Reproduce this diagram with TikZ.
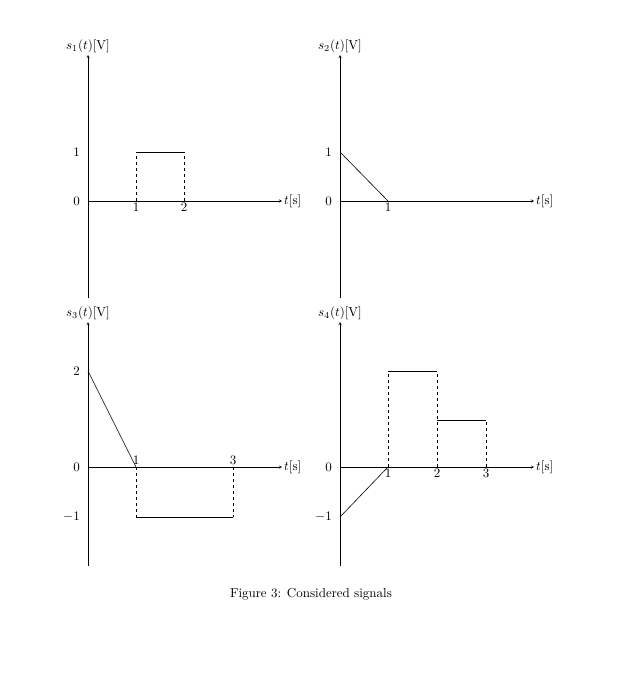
\documentclass[tikz,border=0pt]{standalone}
\begin{document}
\begin{tikzpicture}[x=1pt,y=-1pt,
  axis/.style={->,>=stealth,thin},
  sig/.style={semithick},
  guide/.style={semithick,dashed},
  lbl/.style={inner sep=1.5pt,font=\normalsize,scale=1.3}]
\useasboundingbox (0,0) rectangle (622,690);
% plot 1
\coordinate (o1) at (88,201);
\coordinate (b1) at (88,298);\coordinate (t1) at (88,55);\coordinate (r1) at (282,201);
\draw[axis] (b1) -- (t1) node[above,lbl] (y1) {$s_1(t)[\mathrm{V}]$};
\draw[axis] (o1) -- (r1) node[right,lbl] (x1) {$t[\mathrm{s}]$};
\node[left,lbl] (l10) at (82,201) {$0$};
\node[left,lbl] (l11) at (82,152) {$1$};
\node[below,lbl] (k11) at (136,201) {$1$};
\node[below,lbl] (k12) at (184,201) {$2$};
\coordinate (p1a) at (136,152);\coordinate (p1b) at (184,152);
\draw[guide] (k11.north) -- (p1a);\draw[guide] (k12.north) -- (p1b);
\draw[sig] (p1a) -- (p1b);
% plot 2
\coordinate (o2) at (340,201);
\coordinate (b2) at (340,298);\coordinate (t2) at (340,55);\coordinate (r2) at (534,201);
\draw[axis] (b2) -- (t2) node[above,lbl] (y2) {$s_2(t)[\mathrm{V}]$};
\draw[axis] (o2) -- (r2) node[right,lbl] (x2) {$t[\mathrm{s}]$};
\node[left,lbl] (l20) at (334,201) {$0$};
\node[left,lbl] (l21) at (334,152) {$1$};
\node[below,lbl] (k21) at (388,201) {$1$};
\coordinate (p2a) at (340,152);
\draw[sig] (p2a) -- (k21.north);
% plot 3
\coordinate (o3) at (88,467);
\coordinate (b3) at (88,566);\coordinate (t3) at (88,322);\coordinate (r3) at (282,467);
\draw[axis] (b3) -- (t3) node[above,lbl] (y3) {$s_3(t)[\mathrm{V}]$};
\draw[axis] (o3) -- (r3) node[right,lbl] (x3) {$t[\mathrm{s}]$};
\node[left,lbl] (l30) at (82,467) {$0$};
\node[left,lbl] (l32) at (82,371) {$2$};
\node[left,lbl] (l3m) at (82,517) {$-1$};
\node[above,lbl] (k31) at (136,467) {$1$};
\node[above,lbl] (k33) at (233,467) {$3$};
\coordinate (p3a) at (88,371);\coordinate (p3b) at (136,467);
\coordinate (p3c) at (136,517);\coordinate (p3d) at (233,517);\coordinate (p3e) at (233,467);
\draw[sig] (p3a) -- (p3b);
\draw[guide] (p3b) -- (p3c);\draw[guide] (p3e) -- (p3d);
\draw[sig] (p3c) -- (p3d);
% plot 4
\coordinate (o4) at (340,467);
\coordinate (b4) at (340,566);\coordinate (t4) at (340,322);\coordinate (r4) at (534,467);
\draw[axis] (b4) -- (t4) node[above,lbl] (y4) {$s_4(t)[\mathrm{V}]$};
\draw[axis] (o4) -- (r4) node[right,lbl] (x4) {$t[\mathrm{s}]$};
\node[left,lbl] (l40) at (334,467) {$0$};
\node[left,lbl] (l4m) at (334,517) {$-1$};
\node[below,lbl] (k41) at (388,467) {$1$};
\node[below,lbl] (k42) at (437,467) {$2$};
\node[below,lbl] (k43) at (486,467) {$3$};
\coordinate (p4a) at (340,517);\coordinate (p4b) at (388,467);
\coordinate (p4c) at (388,371);\coordinate (p4d) at (437,371);
\coordinate (p4e) at (437,420);\coordinate (p4f) at (486,420);\coordinate (p4g) at (486,467);
\draw[sig] (p4a) -- (p4b);
\draw[guide] (p4b) -- (p4c);\draw[guide] (k42.north) -- (p4d);\draw[guide] (p4g) -- (p4f);
\draw[sig] (p4c) -- (p4d);\draw[sig] (p4e) -- (p4f);
% caption
\node[lbl] (cap) at (311,594) {Figure 3: Considered signals};
\end{tikzpicture}
\end{document}
